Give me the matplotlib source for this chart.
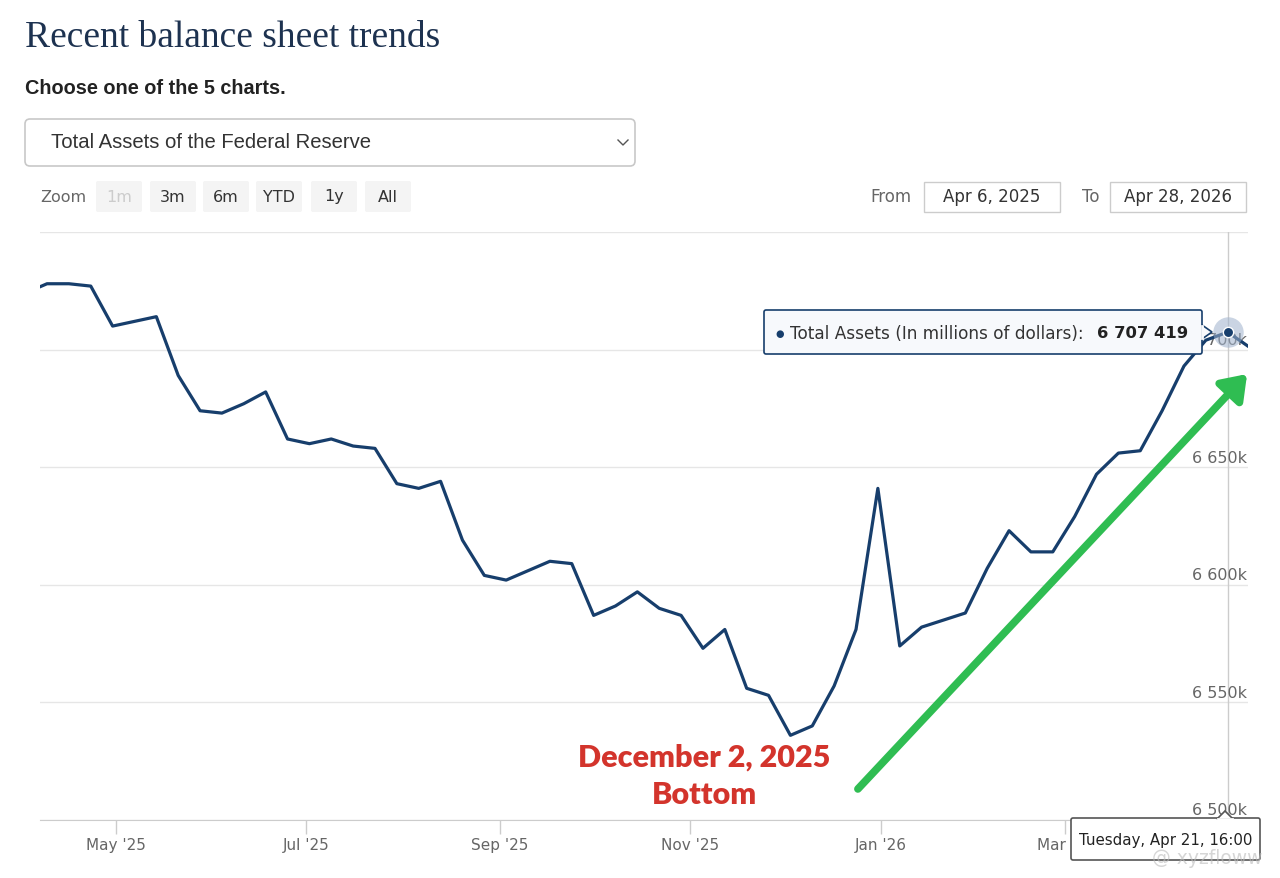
import pandas as pd
import matplotlib.pyplot as plt
from matplotlib.patches import FancyBboxPatch, Polygon, FancyArrowPatch
from matplotlib.lines import Line2D
from matplotlib.transforms import Affine2D

W, H, DPI = 1280, 879, 100

# weekly H.4.1 total assets, millions of dollars
week_start = "2025-04-02"
total_assets = [
    6724000, 6728000, 6728000, 6727000, 6710000, 6712000, 6714000, 6689000,
    6674000, 6673000, 6677000, 6682000, 6662000, 6660000, 6662000, 6659000,
    6658000, 6643000, 6641000, 6644000, 6619000, 6604000, 6602000, 6606000,
    6610000, 6609000, 6587000, 6591000, 6597000, 6590000, 6587000, 6573000,
    6581000, 6556000, 6553000, 6536000, 6540000, 6557000, 6581000, 6641000,
    6574000, 6582000, 6585000, 6588000, 6607000, 6623000, 6614000, 6614000,
    6629000, 6647000, 6656000, 6657000, 6674000, 6693000, 6704000, 6707419,
    6701000,
]
dates = pd.date_range(week_start, periods=len(total_assets), freq="7D")

y_ticks = [6500000, 6550000, 6600000, 6650000, 6700000]
x_tick_dates = ["2025-05-01", "2025-07-01", "2025-09-01", "2025-11-01", "2026-01-01", "2026-03-01"]
x_tick_labels = ["May '25", "Jul '25", "Sep '25", "Nov '25", "Jan '26", "Mar '26"]
zoom_buttons = ["1m", "3m", "6m", "YTD", "1y", "All"]

hover_date = pd.Timestamp("2026-04-22")
hover_value = 6707419

navy = "#173e6c"
grey_txt = "#666666"

fig = plt.figure(figsize=(W / DPI, H / DPI), dpi=DPI)
fig.patch.set_facecolor("white")

# pixel coords, origin top-left
pix = Affine2D().scale(1 / DPI, -1 / DPI).translate(0, H / DPI) + fig.dpi_scale_trans


def ptext(x, y, s, **kw):
    kw.setdefault("va", "center")
    return fig.text(x, y, s, transform=pix, **kw)


def pbox(x, y, w, h, fc="white", ec="#cccccc", lw=1, r=0, z=1):
    style = f"round,pad=0,rounding_size={r}" if r else "square,pad=0"
    p = FancyBboxPatch((x, y), w, h, boxstyle=style, fc=fc, ec=ec, lw=lw,
                       transform=pix, zorder=z)
    fig.add_artist(p)
    return p


# header
ptext(25, 38, "Recent balance sheet trends", family="Liberation Serif", fontsize=27, color="#1d3250")
ptext(25, 89, "Choose one of the 5 charts.", family="Liberation Sans", fontsize=14.3,
      fontweight="bold", color="#222222")
pbox(25, 120, 610, 47, ec="#c8c8c8", lw=1.2, r=5)
ptext(51, 143, "Total Assets of the Federal Reserve", family="Liberation Sans", fontsize=14.6, color="#333333")
fig.add_artist(Line2D([618, 623, 628], [141, 146, 141], transform=pix, color="#555555", lw=1))

# range selector
ptext(40, 198, "Zoom", family="DejaVu Sans", fontsize=11.5, color=grey_txt)
btn_x = [96, 150, 203, 256, 311, 365]
for bx, lab in zip(btn_x, zoom_buttons):
    pbox(bx, 182, 46, 31, fc="#f4f4f4", ec="none", lw=0, r=2)
    ptext(bx + 23, 197, lab, family="DejaVu Sans", fontsize=11.5, ha="center",
          color="#cccccc" if lab == "1m" else "#333333")

ptext(912, 197, "From", family="DejaVu Sans", fontsize=12, color=grey_txt, ha="right")
pbox(924, 183, 136, 30, ec="#cccccc")
ptext(992, 197, "Apr 6, 2025", family="DejaVu Sans", fontsize=12, ha="center", color="#333333")
ptext(1099, 197, "To", family="DejaVu Sans", fontsize=12, color=grey_txt, ha="right")
pbox(1110, 183, 136, 30, ec="#cccccc")
ptext(1178, 197, "Apr 28, 2026", family="DejaVu Sans", fontsize=12, ha="center", color="#333333")

# main plot area
ax = fig.add_axes([40 / W, 1 - 821 / H, 1208 / W, 588 / H])
ax.plot(dates, total_assets, color=navy, lw=2.3, solid_joinstyle="round", zorder=4)
ax.set_xlim(pd.Timestamp("2025-04-06 18:00"), pd.Timestamp("2026-04-28 12:00"))
ax.set_ylim(6500000, 6750000)

for s in ax.spines.values():
    s.set_visible(False)
ax.spines["bottom"].set_visible(True)
ax.spines["bottom"].set_color("#cccccc")

ax.set_yticks([])
for v in y_ticks + [6750000]:
    ax.axhline(v, color="#e6e6e6", lw=1, zorder=0)
for v in y_ticks:
    lab = f"{v // 1000000} {(v // 1000) % 1000:03d}k"
    ax.annotate(lab, (1, v), xycoords=("axes fraction", "data"), xytext=(-1, 10),
                textcoords="offset pixels", ha="right", va="center", fontsize=11.5,
                color=grey_txt, family="DejaVu Sans", zorder=2)

ax.set_xticks(pd.to_datetime(x_tick_dates))
ax.set_xticklabels(x_tick_labels, family="DejaVu Sans", fontsize=11, color=grey_txt)
ax.tick_params(axis="x", length=10, width=1, color="#cccccc", pad=2)

# crosshair and hovered point
ax.axvline(hover_date, color="#cccccc", lw=1, zorder=1)
ax.scatter([hover_date], [hover_value], s=480, color="#9fb2cc", alpha=0.55, zorder=5, lw=0)
ax.scatter([hover_date], [hover_value], s=55, color=navy, ec="white", lw=1, zorder=6)

# tooltip
pbox(764, 311, 438, 44, fc="#f7f9fc", ec=navy, lw=1.2, r=2, z=7)
fig.add_artist(Polygon([[1202, 326], [1212, 333], [1202, 340]], closed=True, transform=pix,
                       fc="#f7f9fc", ec=navy, lw=1.2, zorder=7))
fig.add_artist(Line2D([1202, 1202], [327, 339], transform=pix, color="#f7f9fc", lw=2, zorder=7))
ptext(775, 334, "\u25cf", fontsize=7, color=navy, zorder=8)
ptext(790, 334, "Total Assets (In millions of dollars):", family="DejaVu Sans", fontsize=12.2,
      color="#333333", zorder=8)
ptext(1188, 334, f"{hover_value:,}".replace(",", " "), family="DejaVu Sans", fontsize=11.8,
      fontweight="bold", color="#222222", ha="right", zorder=8)

# date tooltip at bottom
pbox(1071, 819, 189, 42, fc="white", ec="#555555", lw=1.2, r=2, z=7)
fig.add_artist(Polygon([[1217, 820], [1225, 812], [1233, 820]], closed=True, transform=pix,
                       fc="white", ec="#555555", lw=1.2, zorder=7))
fig.add_artist(Line2D([1218, 1232], [820, 820], transform=pix, color="white", lw=2, zorder=7))
ptext(1166, 841, "Tuesday, Apr 21, 16:00", family="DejaVu Sans", fontsize=10.8, ha="center",
      color="#222222", zorder=8)
ptext(1152, 858, "@ xyzfloww", family="DejaVu Sans", fontsize=13.5, color="#bbbbbb", alpha=0.6, zorder=9)

# annotation: bottom label and green arrow
ptext(704, 758, "December 2, 2025", family="Lato", fontsize=22, fontweight="heavy",
      color="#d3342c", ha="center")
ptext(704, 795, "Bottom", family="Lato", fontsize=22, fontweight="heavy", color="#d3342c", ha="center")
fig.add_artist(FancyArrowPatch((856, 792), (1249, 373), transform=pix,
                               arrowstyle="-|>,head_length=14,head_width=10", mutation_scale=1,
                               color="#2fbd52", lw=5.5, zorder=3))

fig.savefig("out.png", dpi=DPI, facecolor="white")
